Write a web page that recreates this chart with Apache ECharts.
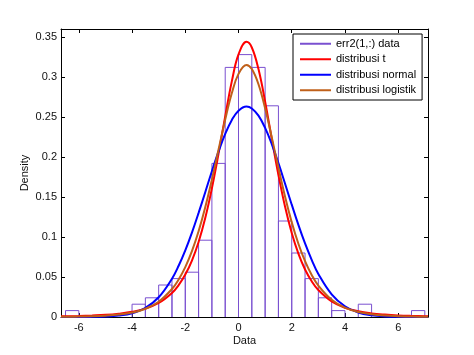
<!DOCTYPE html>
<html>
<head>
<meta charset="utf-8">
<script src="https://cdn.jsdelivr.net/npm/echarts@6/dist/echarts.min.js"></script>
<style>
html,body{margin:0;padding:0;background:#fff;}
#chart{width:474px;height:355px;}
</style>
</head>
<body>
<div id="chart"></div>
<script>
// Histogram bin edges (28 edges -> 27 bins) and densities
const binEdges = [-6.5,-6,-5.5,-5,-4.5,-4,-3.5,-3,-2.5,-2,-1.5,-1,-0.5,0,0.5,1,1.5,2,2.5,3,3.5,4,4.5,5,5.5,6,6.5,7];
const binDensity = [0.008,0,0,0,0,0.016,0.024,0.040,0.048,0.056,0.096,0.192,0.312,0.328,0.312,0.264,0.120,0.080,0.048,0.024,0.008,0,0.016,0,0,0,0.008];

// Fitted curves
const curveX = [-6.67,-6.5,-6,-5.5,-5,-4.5,-4,-3.5,-3,-2.5,-2.25,-2,-1.75,-1.5,-1.25,-1,-0.75,-0.5,-0.25,0,0.3,0.5,0.75,1,1.25,1.5,1.75,2,2.25,2.5,2.75,3,3.5,4,4.5,5,5.5,6,6.5,7,7.12];
const tPdf = [0.0008,0.0009,0.0013,0.0019,0.0027,0.0042,0.0065,0.0105,0.0175,0.0301,0.0398,0.0530,0.0706,0.0938,0.1237,0.1608,0.2042,0.2508,0.2948,0.3282,0.344,0.3369,0.3099,0.2692,0.2227,0.1775,0.1377,0.1049,0.0792,0.0594,0.0447,0.0337,0.0195,0.0116,0.0071,0.0045,0.0030,0.0020,0.0014,0.0010,0.0009];
const normalPdf = [0,0,0,0.0002,0.0006,0.0018,0.0047,0.0114,0.0247,0.0479,0.0640,0.0833,0.1055,0.1301,0.1560,0.1822,0.2070,0.2289,0.2463,0.2579,0.263,0.2607,0.2517,0.2364,0.2162,0.1923,0.1666,0.1404,0.1151,0.0919,0.0714,0.0539,0.0284,0.0134,0.0057,0.0022,0.0007,0.0002,0.0001,0,0];
const logisticPdf = [0.0002,0.0002,0.0005,0.0008,0.0016,0.0030,0.0055,0.0103,0.0191,0.0350,0.0469,0.0624,0.0823,0.1071,0.1371,0.1717,0.2093,0.2467,0.2799,0.3039,0.315,0.3099,0.2909,0.2608,0.2245,0.1865,0.1504,0.1185,0.0916,0.0698,0.0526,0.0393,0.0216,0.0117,0.0063,0.0034,0.0018,0.0010,0.0005,0.0003,0.0002];

const seriesNames = ['err2(1,:) data','distribusi t','distribusi normal','distribusi logistik'];
const xAxisName = 'Data';
const yAxisName = 'Density';

const PURPLE = '#7a50d0', RED = '#ff0000', BLUE = '#0000ff', BROWN = '#c0601a';
const FONT = 'Arial, "Liberation Sans", sans-serif';

const barData = binDensity.map((h, i) => [binEdges[i], binEdges[i + 1], h]);
const pairs = arr => curveX.map((x, i) => [x, arr[i]]);

const fmtX = v => (Math.abs(v - Math.round(v)) < 1e-6 && Math.round(v) % 2 === 0) ? String(Math.round(v)) : '';
const fmtY = v => { const r = Math.round(v * 100) / 100; return (Math.abs(v * 20 - Math.round(v * 20)) < 1e-6) ? String(+r.toFixed(2)) : ''; };

const baseX = {
  type: 'value', min: -6.67, max: 7.12, splitNumber: 7,
  axisLine: { show: true, onZero: false, lineStyle: { color: '#000', width: 1 } },
  axisTick: { show: true, inside: true, length: 4, lineStyle: { color: '#000' } },
  splitLine: { show: false }
};
const baseY = {
  type: 'value', min: 0, max: 0.36, interval: 0.05,
  axisLine: { show: true, onZero: false, lineStyle: { color: '#000', width: 1 } },
  axisTick: { show: true, inside: true, length: 4, lineStyle: { color: '#000' } },
  splitLine: { show: false }
};

const chart = echarts.init(document.getElementById('chart'), null, { renderer: 'canvas' });
chart.setOption({
  animation: false,
  backgroundColor: '#fff',
  grid: { left: 61, right: 46, top: 29, bottom: 38, containLabel: false },
  xAxis: [
    Object.assign({}, baseX, {
      position: 'bottom',
      name: xAxisName, nameLocation: 'middle', nameGap: 18, nameMoveOverlap: false,
      nameTextStyle: { fontFamily: FONT, fontSize: 11, color: '#111' },
      axisLabel: { margin: 5, fontFamily: FONT, fontSize: 11, color: '#111', formatter: fmtX, showMinLabel: false, showMaxLabel: false }
    }),
    Object.assign({}, baseX, { position: 'top', axisLabel: { show: false } })
  ],
  yAxis: [
    Object.assign({}, baseY, {
      position: 'left',
      name: yAxisName, nameLocation: 'middle', nameGap: 31, nameMoveOverlap: false,
      nameTextStyle: { fontFamily: FONT, fontSize: 11, color: '#111' },
      axisLabel: { margin: 4, fontFamily: FONT, fontSize: 11, color: '#111', formatter: fmtY, showMaxLabel: false }
    }),
    Object.assign({}, baseY, { position: 'right', axisLabel: { show: false } })
  ],
  legend: {
    orient: 'vertical', left: 293, top: 34,
    backgroundColor: '#fff', borderColor: '#000', borderWidth: 1, borderRadius: 0,
    padding: [2, 6, 2, 7], itemGap: 0, itemWidth: 31, itemHeight: 2, icon: 'rect',
    textStyle: { fontFamily: FONT, fontSize: 11, color: '#000', lineHeight: 15.5 },
    data: [
      { name: seriesNames[0], itemStyle: { color: PURPLE } },
      { name: seriesNames[1], itemStyle: { color: RED } },
      { name: seriesNames[2], itemStyle: { color: BLUE } },
      { name: seriesNames[3], itemStyle: { color: BROWN } }
    ]
  },
  series: [
    {
      name: seriesNames[0], type: 'custom', xAxisIndex: 0, yAxisIndex: 0,
      encode: { x: [0, 1], y: 2 },
      itemStyle: { color: PURPLE },
      data: barData,
      z: 2,
      renderItem: function (params, api) {
        const x0 = api.value(0), x1 = api.value(1), h = api.value(2);
        if (!(h > 0)) return null;
        const p0 = api.coord([x0, 0]), p1 = api.coord([x0, h]), p2 = api.coord([x1, h]), p3 = api.coord([x1, 0]);
        return { type: 'polyline', shape: { points: [p0, p1, p2, p3] }, style: { stroke: PURPLE, fill: null, lineWidth: 1 } };
      }
    },
    { name: seriesNames[1], type: 'line', data: pairs(tPdf), smooth: 0.4, showSymbol: false, symbol: 'none',
      lineStyle: { color: RED, width: 2 }, itemStyle: { color: RED }, z: 3 },
    { name: seriesNames[2], type: 'line', data: pairs(normalPdf), smooth: 0.4, showSymbol: false, symbol: 'none',
      lineStyle: { color: BLUE, width: 2 }, itemStyle: { color: BLUE }, z: 4 },
    { name: seriesNames[3], type: 'line', data: pairs(logisticPdf), smooth: 0.4, showSymbol: false, symbol: 'none',
      lineStyle: { color: BROWN, width: 2 }, itemStyle: { color: BROWN }, z: 5 }
  ]
});
</script>
</body>
</html>
